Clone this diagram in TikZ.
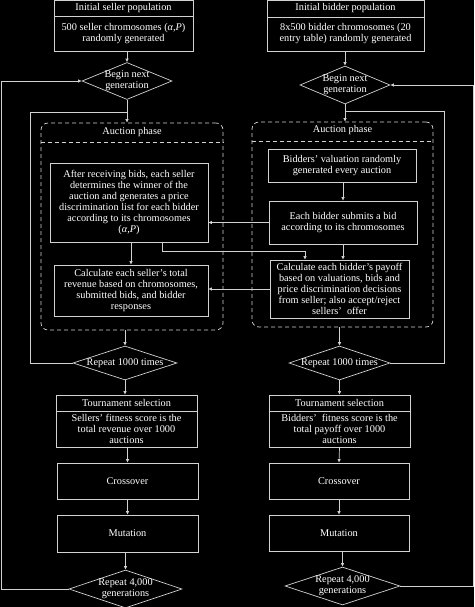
\documentclass[tikz,border=0pt]{standalone}
\usepackage{fontspec}
\setmainfont{Liberation Serif}
\usetikzlibrary{shapes.geometric,arrows.meta}
\definecolor{ligne}{RGB}{210,210,210}

\begin{document}
\begin{tikzpicture}[x=1pt,y=-1pt,line width=0.7pt,
  every node/.style={font=\fontsize{10.3}{11}\selectfont,text=white,align=center,inner sep=0pt},
  boite/.style={draw=ligne,rectangle},
  losange/.style={draw=ligne,diamond,aspect=#1,inner sep=-2pt},
  phase/.style={draw=ligne,rectangle,rounded corners=7pt,dash pattern=on 4pt off 3pt},
  tirets/.style={draw=ligne,dash pattern=on 4pt off 3pt},
  fleche/.style={draw=ligne,-{Latex[length=3.5pt,width=3.5pt]}},
  trait/.style={draw=ligne}]
\useasboundingbox (0,0) rectangle (474,607);
\fill[black] (0,0) rectangle (474,607);
  % Vendeurs
\node[boite,minimum width=139pt,minimum height=16pt] (sinit) at (123.5,8.5) {Initial seller population};
\node[boite,minimum width=139pt,minimum height=34.5pt] (sinitb) at (123.5,33.75) {500 seller chromosomes (\textit{α,P})\\randomly generated};
\node[losange=2.4,minimum width=90pt,minimum height=37pt] (sbegin) at (127,81) {Begin next\\generation};
\node[phase,minimum width=182pt,minimum height=207pt] (sphase) at (132,226.5) {};
  \node (sphaset) at (132,132) {Auction phase};
  \draw[tirets] (sphase.west |- 0,142) -- (sphase.east |- 0,142);
\node[boite,minimum width=158pt,minimum height=79pt] (sdecide) at (129,202.5) {After receiving bids, each seller\\determines the winner of the\\auction and generates a price\\discrimination list for each bidder\\according to its chromosomes\\(\textit{α,P})};
\node[boite,minimum width=154pt,minimum height=51pt] (scalc) at (131,290.5) {Calculate each seller's total\\revenue based on chromosomes,\\submitted bids, and bidder\\responses};
\node[losange=3,minimum width=104pt,minimum height=34pt] (srep1) at (125,363) {Repeat 1000 times};
\node[boite,minimum width=141pt,minimum height=16pt] (stourn) at (126.5,403) {Tournament selection};
\node[boite,minimum width=141pt,minimum height=36pt] (stournb) at (126.5,429) {Sellers' fitness score is the\\total revenue over 1000\\auctions};
\node[boite,minimum width=141pt,minimum height=36pt] (scross) at (127.5,481) {Crossover};
\node[boite,minimum width=141pt,minimum height=37pt] (smut) at (127.5,533.5) {Mutation};
\node[losange=3,minimum width=113pt,minimum height=38pt] (srep4) at (125.5,589) {Repeat 4,000\\generations};
  % Acheteurs
\node[boite,minimum width=157pt,minimum height=17pt] (binit) at (345.5,8.5) {Initial bidder population};
\node[boite,minimum width=157pt,minimum height=34pt] (binitb) at (345.5,34) {8x500 bidder chromosomes (20\\entry table) randomly generated};
\node[losange=2.4,minimum width=90pt,minimum height=38pt] (bbegin) at (345,85) {Begin next\\generation};
\node[phase,minimum width=181pt,minimum height=205pt] (bphase) at (342.5,224.5) {};
  \node (bphaset) at (342.5,130.5) {Auction phase};
  \draw[tirets] (bphase.west |- 0,141) -- (bphase.east |- 0,141);
\node[boite,minimum width=148pt,minimum height=33pt] (bval) at (342,165.5) {Bidders' valuation randomly\\generated every auction};
\node[boite,minimum width=148pt,minimum height=43pt] (bbid) at (343,222.5) {Each bidder submits a bid\\according to its chromosomes};
\node[boite,minimum width=139pt,minimum height=58pt] (bpay) at (339.5,289) {Calculate each bidder's payoff\\based on valuations, bids and\\price discrimination decisions\\from seller; also accept/reject\\sellers'\enspace offer};
\node[losange=3,minimum width=101pt,minimum height=34pt] (brep1) at (339.5,363) {Repeat 1000 times};
\node[boite,minimum width=141pt,minimum height=16pt] (btourn) at (339.5,403) {Tournament selection};
\node[boite,minimum width=141pt,minimum height=36pt] (btournb) at (339.5,429) {Bidders'\enspace fitness score is the\\total payoff over 1000\\auctions};
\node[boite,minimum width=140pt,minimum height=36pt] (bcross) at (339,481) {Crossover};
\node[boite,minimum width=140pt,minimum height=36pt] (bmut) at (339,533) {Mutation};
\node[losange=3,minimum width=115pt,minimum height=38pt] (brep4) at (342.5,586) {Repeat 4,000\\generations};
  % Fleches vendeurs
\draw[fleche] (sinitb.south -| sbegin.north) -- (sbegin.north);
\draw[fleche] (sbegin.south) -- (sbegin.south |- sphase.north);
\draw[fleche] (sdecide.south -| scalc.north) -- (scalc.north);
\draw[fleche] (sphase.south -| srep1.north) -- (srep1.north);
\draw[fleche] (srep1.south) -- (srep1.south |- stourn.north);
\draw[fleche] (stournb.south -| scross.north) -- (scross.north);
\draw[fleche] (scross.south) -- (smut.north);
\draw[fleche] (smut.south -| srep4.north) -- (srep4.north);
  % Fleches acheteurs
\draw[fleche] (binitb.south -| bbegin.north) -- (bbegin.north);
\draw[fleche] (bbegin.south) -- (bbegin.south |- bphase.north);
\draw[fleche] (bval.south -| bbid.north) -- (bbid.north);
\draw[fleche] (bbid.south) -- (bbid.south |- bpay.north);
\draw[fleche] (bphase.south -| brep1.north) -- (brep1.north);
\draw[fleche] (brep1.south) -- (brep1.south |- btourn.north);
\draw[fleche] (btournb.south) -- (bcross.north);
\draw[fleche] (bcross.south) -- (bmut.north);
\draw[fleche] (bmut.south -| brep4.north) -- (brep4.north);
  % Boucles
\coordinate (sboucle) at (30,112);
\draw[trait] (srep1.west) -| (sboucle) -- (sboucle -| sbegin.south);
\coordinate (sretour) at (1,81);
\draw[fleche] (srep4.west) -| (sretour) -- (sbegin.west);
\coordinate (bboucle) at (444,111);
\draw[trait] (brep1.east) -| (bboucle) -- (bboucle -| bbegin.south);
\coordinate (bretour) at (473,85);
\draw[fleche] (brep4.east) -| (bretour) -- (bbegin.east);
  % Echanges
\draw[fleche] (bbid.west) -- (bbid.west -| sdecide.east);
\coordinate (ssort) at (162,251);
\coordinate (bentre) at (305,251);
\draw[fleche] (sdecide.south -| ssort) -- (ssort) -- (bentre) -- (bentre |- bpay.north);
\draw[fleche] (bpay.west) -- (bpay.west -| scalc.east);
\end{tikzpicture}
\end{document}
